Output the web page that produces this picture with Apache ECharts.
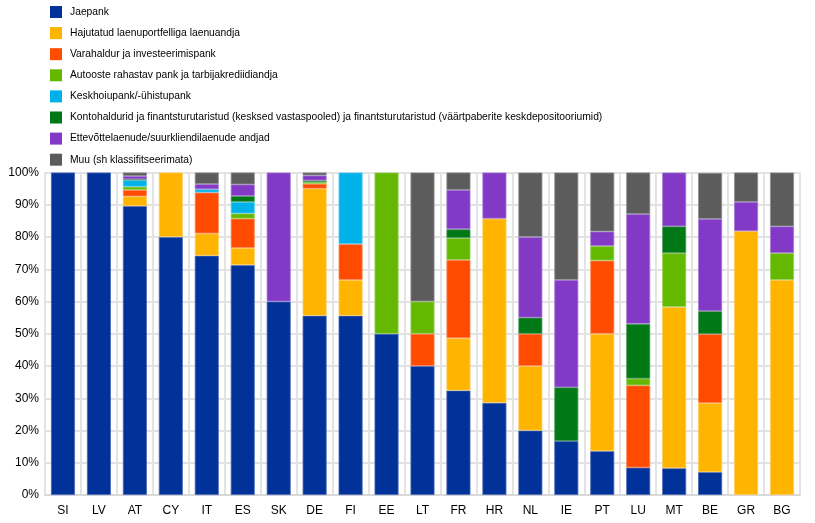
<!DOCTYPE html>
<html><head><meta charset="utf-8">
<script src="https://cdn.jsdelivr.net/npm/echarts@6/dist/echarts.min.js"></script>
<style>html,body{margin:0;padding:0;background:#fff}#c{width:815px;height:523px}</style>
</head><body><div id="c"></div>
<script>
var categories = ["SI","LV","AT","CY","IT","ES","SK","DE","FI","EE","LT","FR","HR","NL","IE","PT","LU","MT","BE","GR","BG"];
var seriesNames = [
  "Jaepank",
  "Hajutatud laenuportfelliga laenuandja",
  "Varahaldur ja investeerimispank",
  "Autooste rahastav pank ja tarbijakrediidiandja",
  "Keskhoiupank/-ühistupank",
  "Kontohaldurid ja finantsturutaristud (kesksed vastaspooled) ja finantsturutaristud (väärtpaberite keskdepositooriumid)",
  "Ettevõttelaenude/suurkliendilaenude andjad",
  "Muu (sh klassifitseerimata)"
];
var jaepank      = [100,100,89.6,80,74.2,71.3,60,55.6,55.6,50,40,32.4,28.6,20,16.7,13.6,8.5,8.3,7.1,0,0];
var hajutatud    = [0,0,3.0,20,6.9,5.3,0,39.4,11.1,0,0,16.2,57.1,20,0,36.4,0,50,21.4,81.8,66.7];
var varahaldur   = [0,0,2.0,0,12.7,9.1,0,1.5,11.1,0,10,24.3,0,10,0,22.7,25.5,0,21.4,0,0];
var autooste     = [0,0,1.0,0,0,1.6,0,0.5,0,50,10,6.8,0,0,0,4.5,2.1,16.7,0,0,8.3];
var keskhoiu     = [0,0,2.0,0,1.0,3.6,0,0,22.2,0,0,0,0,0,0,0,0,0,0,0,0];
var kontohaldur  = [0,0,0.3,0,0,1.8,0,0.5,0,0,0,2.7,0,5,16.7,0,17.0,8.3,7.1,0,0];
var ettevotte    = [0,0,1.0,0,1.6,3.6,40,1.6,0,0,0,12.2,14.3,25,33.3,4.5,34.0,16.7,28.6,9.1,8.3];
var muu          = [0,0,1.1,0,3.6,3.7,0,0.9,0,0,40,5.4,0,20,33.3,18.3,12.9,0,14.3,9.1,16.7];
var yTicks = [0,10,20,30,40,50,60,70,80,90,100];
var colors = ["#003299","#FFB400","#FF4B00","#65B800","#00B1EA","#007816","#8139C6","#5C5C5C"];
var dataSets = [jaepank,hajutatud,varahaldur,autooste,keskhoiu,kontohaldur,ettevotte,muu];
var borders = ["#4a68b8","#ffcb5a","#ff8a5a","#97d158","#5ccbf0","#4a9a5a","#a67ad6","#8f8f8f"];

var chart = echarts.init(document.getElementById('c'), null, {renderer:'canvas'});
var series = seriesNames.map(function(n,i){
  return {
    name:n, type:'bar', stack:'all', barWidth:24,
    itemStyle:{color:colors[i], borderColor:borders[i], borderWidth:0.8},
    emphasis:{disabled:true},
    data: dataSets[i].map(function(v){return v===0?null:v;})
  };
});
chart.setOption({
  animation:false,
  color:colors,
  textStyle:{fontFamily:'Liberation Sans, Arial, sans-serif'},
  legend:{
    orient:'vertical', left:50, top:6, padding:0, itemWidth:12, itemHeight:12, itemGap:9.1,
    icon:'rect', data:seriesNames,
    itemStyle:{borderWidth:0},
    textStyle:{fontSize:10.3, lineHeight:12, color:'#000', fontFamily:'Liberation Sans, Arial, sans-serif', padding:[0,0,0,3]}
  },
  grid:{left:45, right:15, top:172.5, bottom:28},
  xAxis:{
    type:'category', data:categories,
    axisLine:{lineStyle:{color:'#d9d9d9', width:2}},
    axisTick:{show:false},
    axisLabel:{color:'#000', fontSize:12, margin:10},
    splitLine:{show:true, interval:0, lineStyle:{color:'#e3e3e3', width:2}}
  },
  yAxis:{
    type:'value', min:0, max:100, interval:10,
    axisLabel:{color:'#000', fontSize:12, formatter:function(v){return v+'%';}, margin:6},
    axisLine:{show:false}, axisTick:{show:false},
    splitLine:{lineStyle:{color:'#e3e3e3', width:2}}
  },
  series:series
});
</script></body></html>
